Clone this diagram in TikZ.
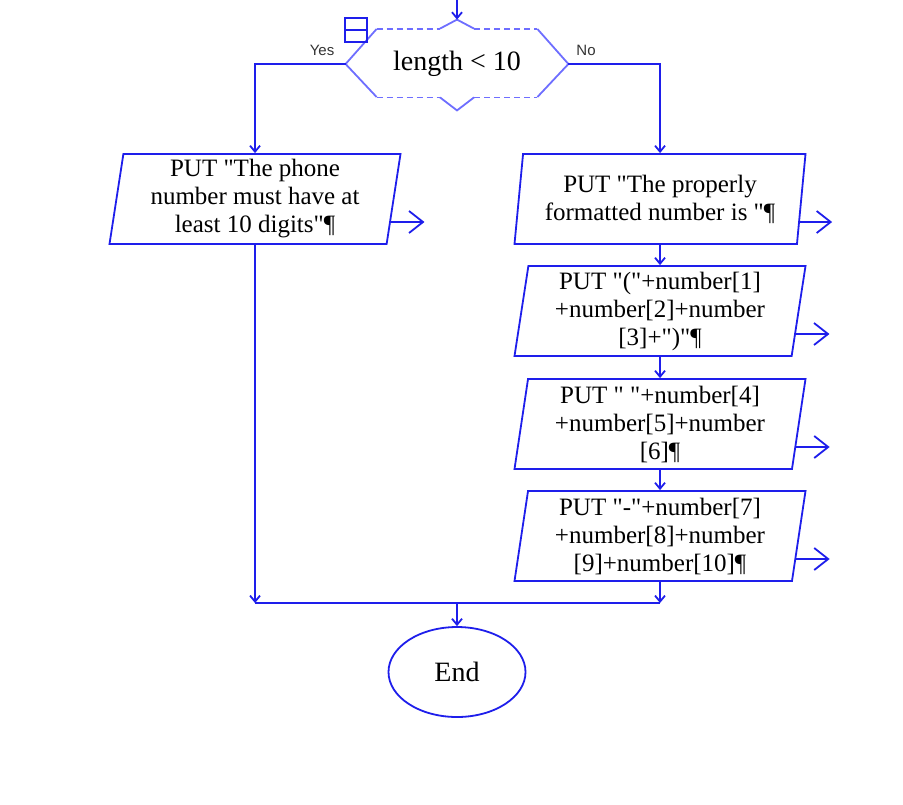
\documentclass[tikz,border=0pt]{standalone}
\usepackage{fontspec}
\setmainfont{Liberation Serif}[Ligatures=TeXOff]
\newfontfamily\labelfont{Liberation Sans}
\usepackage{tikz}
\usetikzlibrary{arrows.meta,shapes.geometric,calc}
\definecolor{flowblue}{RGB}{30,30,235}
\definecolor{dashblue}{RGB}{110,110,255}

\begin{document}
\begin{tikzpicture}[
  x=0.5pt, y=-0.5pt,
  every node/.style={font=\fontsize{12.5}{14}\selectfont},
  putbox/.style={draw=flowblue, line width=0.9pt, trapezium,
                 trapezium left angle=80, trapezium right angle=100,
                 trapezium stretches body, minimum width=145.5pt,
                 minimum height=45pt, inner sep=0pt, align=center},
  endbox/.style={draw=flowblue, line width=0.9pt, ellipse,
                 minimum width=68.5pt, minimum height=45pt,
                 font=\fontsize{14}{16}\selectfont},
  flow/.style={flowblue, line width=0.9pt, -{Straight Barb[length=3pt,width=5pt]}},
  line/.style={flowblue, line width=0.9pt},
  outarrow/.style={flowblue, line width=0.9pt, -{Straight Barb[length=7pt,width=11pt]}},
  decedge/.style={dashblue, line width=0.9pt},
  decdash/.style={dashblue, line width=0.9pt, dash pattern=on 3pt off 2pt},
  tag/.style={font=\labelfont\fontsize{7.5}{9}\selectfont, text=black!80},
]
\useasboundingbox (0,0) rectangle (903,804);

%% ── Decision ──────────────────────────────────────────────────────────────────
\coordinate (start) at (457,0);
\node[minimum width=111pt, minimum height=34pt, inner sep=0pt,
      font=\fontsize{14}{16}\selectfont] (dec) at (457,64) {length < 10};
\coordinate (decTop) at ($(dec.north)+(0,-10)$);
\draw[decedge] (dec.west) -- ++(31,-35) (dec.west) -- ++(31,33)
               (dec.east) -- ++(-31,-35) (dec.east) -- ++(-31,33);
\draw[decdash] ($(dec.north west)+(31,-1)$) -- ($(dec.north)+(-17,-1)$)
               ($(dec.north)+(17,-1)$) -- ($(dec.north east)+(-31,-1)$)
               ($(dec.south west)+(31,-1)$) -- ($(dec.south)+(-17,-1)$)
               ($(dec.south)+(17,-1)$) -- ($(dec.south east)+(-31,-1)$);
\draw[decedge] ($(dec.north)+(-17,-1)$) -- (decTop) -- ($(dec.north)+(17,-1)$)
               ($(dec.south)+(-17,-1)$) -- ($(dec.south)+(0,12)$) -- ($(dec.south)+(17,-1)$);
% collapse marker
\node[draw=flowblue, line width=0.9pt, minimum width=11pt, minimum height=12pt,
      inner sep=0pt] (fold) at (356,30) {};
\draw[flowblue, line width=0.9pt] (fold.west) -- (fold.east);
\node[tag] (yes) at (322,50) {Yes};
\node[tag] (no) at (586,50) {No};

%% ── Left branch ───────────────────────────────────────────────────────────────
\node[putbox] (lp) at (255,199) {PUT "The phone\\number must have at\\least 10 digits"¶};

%% ── Right branch ──────────────────────────────────────────────────────────────
\node[putbox] (rp1) at (660,199) {PUT "The properly\\formatted number is "¶};
\node[putbox] (rp2) at (660,311) {PUT "("+number[1]\\+number[2]+number\\{}[3]+")"¶};
\node[putbox] (rp3) at (660,424) {PUT " "+number[4]\\+number[5]+number\\{}[6]¶};
\node[putbox] (rp4) at (660,536) {PUT "-"+number[7]\\+number[8]+number\\{}[9]+number[10]¶};

%% ── End ───────────────────────────────────────────────────────────────────────
\coordinate (merge) at (457,603);
\node[endbox] (end) at (457,672) {End};

%% ── Arrows ────────────────────────────────────────────────────────────────────
\draw[flow] (start) -- (decTop);
\draw[flow] (dec.west) -| (lp.north);
\draw[flow] (dec.east) -| (rp1.north);
\draw[flow] (rp1.south) -- (rp2.north);
\draw[flow] (rp2.south) -- (rp3.north);
\draw[flow] (rp3.south) -- (rp4.north);

% outputs
\draw[outarrow] ($(lp.east)+(-4,23)$) -- ++(34,0);
\draw[outarrow] ($(rp1.east)+(-4,23)$) -- ++(34,0);
\draw[outarrow] ($(rp2.east)+(-4,23)$) -- ++(34,0);
\draw[outarrow] ($(rp3.east)+(-4,23)$) -- ++(34,0);
\draw[outarrow] ($(rp4.east)+(-4,23)$) -- ++(34,0);

% join
\draw[flow] (lp.south) -- (lp.south |- merge);
\draw[flow] (rp4.south) -- (rp4.south |- merge);
\draw[line] (lp.south |- merge) -- (rp4.south |- merge);
\draw[flow] (merge) -- (end.north);

\end{tikzpicture}
\end{document}
